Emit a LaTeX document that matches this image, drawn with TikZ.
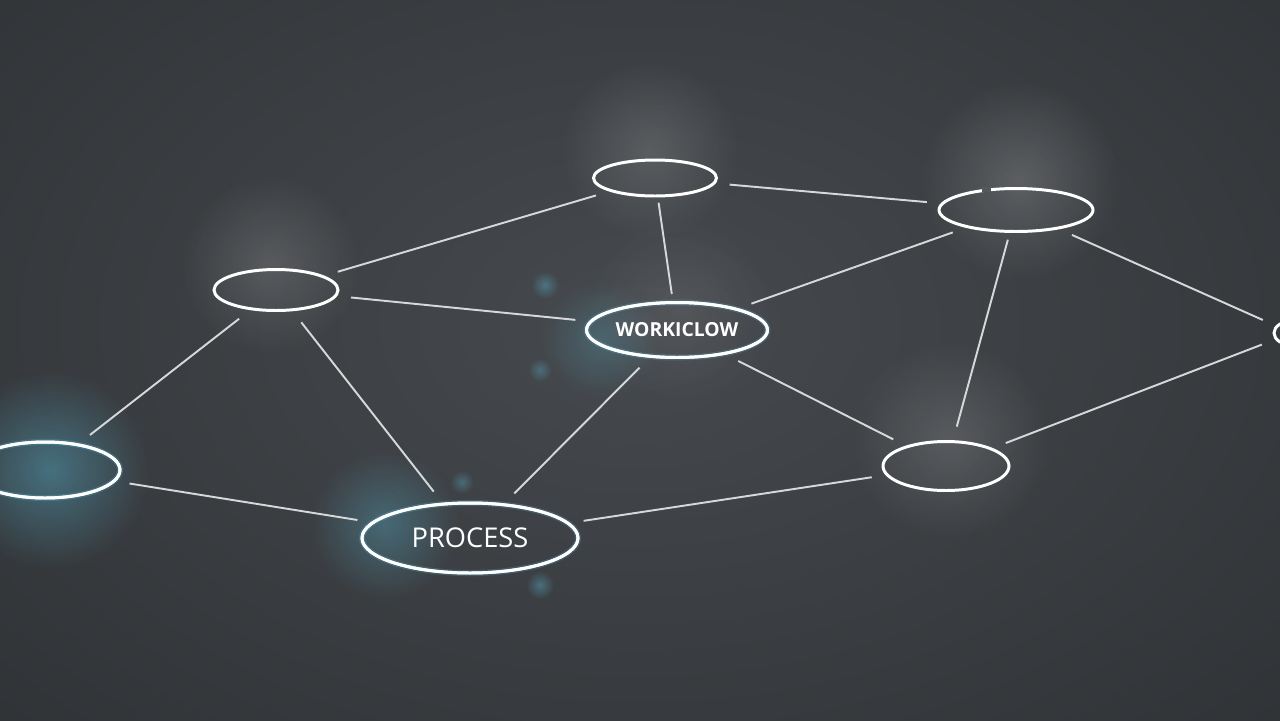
\documentclass[tikz,border=0pt]{standalone}
\usepackage{fontspec}
\setmainfont{Open Sans}
\usetikzlibrary{shapes.geometric,fadings}
\tikzfading[name=glowfade, inner color=transparent!0, outer color=transparent!100]
\definecolor{bgmid}{HTML}{46494D}
\definecolor{bgedge}{HTML}{2D3033}
\definecolor{linec}{HTML}{D6D8DA}
\definecolor{glowc}{HTML}{5FC8E8}
\begin{document}
\begin{tikzpicture}[x=0.02cm,y=-0.02cm,
  oval/.style={ellipse, draw=white, line width=1.7pt, inner sep=0pt},
  link/.style={draw=linec, line width=1.1pt, shorten <=8pt, shorten >=8pt},
  glow/.style={path fading=glowfade}]
\useasboundingbox (0,0) rectangle (1280,720);
\clip (0,0) rectangle (1280,720);
% background
\shade[outer color=bgedge, inner color=bgmid] (-400,-350) rectangle (1680,1000);
% glows
\fill[glowc, glow, opacity=0.38] (50,470) circle (100);
\fill[glowc, glow, opacity=0.3] (385,525) circle (75);
\fill[glowc, glow, opacity=0.22] (600,340) circle (60);
\fill[glowc, glow, opacity=0.35] (545,285) circle (14);
\fill[glowc, glow, opacity=0.3] (540,370) circle (12);
\fill[glowc, glow, opacity=0.3] (462,482) circle (12);
\fill[glowc, glow, opacity=0.35] (540,585) circle (14);
\fill[white, glow, opacity=0.14] (270,265) circle (90);
\fill[white, glow, opacity=0.14] (650,150) circle (90);
\fill[white, glow, opacity=0.17] (1020,180) circle (100);
\fill[white, glow, opacity=0.14] (950,440) circle (100);
\fill[white, glow, opacity=0.08] (680,310) circle (95);
% nodes
\node[oval, minimum width=3cm, minimum height=1.12cm] (A) at (45,470) {};
\node[oval, minimum width=2.48cm, minimum height=0.82cm] (B) at (276,290) {};
\node[oval, minimum width=2.46cm, minimum height=0.72cm] (C) at (655,178) {};
\node[oval, minimum width=3.62cm, minimum height=1.1cm, font=\bfseries\fontsize{11}{13}\selectfont, text=white] (D) at (677,330) {WORKICLOW};
\node[oval, minimum width=3.08cm, minimum height=0.86cm] (E) at (1016,210) {};
\node[oval, minimum width=2.52cm, minimum height=0.98cm] (F) at (946,466) {};
\node[oval, minimum width=4.32cm, minimum height=1.4cm, font=\fontsize{15.5}{17}\selectfont, text=white] (G) at (470,538) {PROCESS};
\node[oval, minimum width=0.72cm, minimum height=0.48cm] (H) at (1292,333) {};
% soft glowing outlines for the cyan nodes
\draw[glowc, line width=3.5pt, opacity=0.2] (A.center) ellipse (75 and 28);
\draw[glowc, line width=3.5pt, opacity=0.2] (G.center) ellipse (108 and 35);
\draw[glowc, line width=3.5pt, opacity=0.18] (D.center) ellipse (90.5 and 27.5);
\draw[white, line width=1.7pt] (A.center) ellipse (75 and 28);
\draw[white, line width=1.7pt] (G.center) ellipse (108 and 35);
\draw[white, line width=1.7pt] (D.center) ellipse (90.5 and 27.5);
% small gap in the top-right oval
\draw[draw=bgmid!92!white, line width=2.6pt] (982,189.3) -- (991,189.3);
% connectors
\draw[link] (A) -- (B);
\draw[link] (A) -- (G);
\draw[link] (B) -- (C);
\draw[link] (B) -- (D);
\draw[link] (B) -- (G);
\draw[link, shorten <=3pt, shorten >=4pt] (C) -- (D);
\draw[link] (C) -- (E);
\draw[link] (D) -- (E);
\draw[link] (D) -- (G);
\draw[link] (D) -- (F);
\draw[link, shorten <=4pt] (E) -- (F);
\draw[link] (E) -- (H);
\draw[link] (F) -- (H);
\draw[link] (G) -- (F);
\end{tikzpicture}
\end{document}
